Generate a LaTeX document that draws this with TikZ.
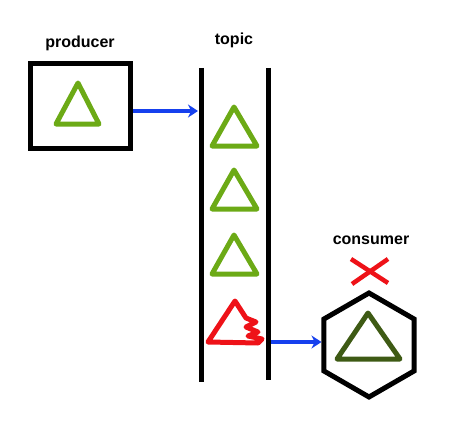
\documentclass[tikz,border=0pt]{standalone}
\usepackage{fontspec}
\setmainfont{Liberation Sans}
\usetikzlibrary{shapes.geometric,arrows.meta}
\definecolor{okgreen}{RGB}{108,170,22}
\definecolor{darkgreen}{RGB}{62,90,20}
\definecolor{badred}{RGB}{238,18,24}
\definecolor{msgblue}{RGB}{22,64,238}
\tikzset{
  title/.style={font=\bfseries\fontsize{16}{19}\selectfont},
  okmsg/.style={okgreen,line width=5pt,line join=round},
  msgarrow/.style={msgblue,line width=3.5pt,-{Stealth[length=10pt,width=13pt]}}
}
\begin{document}
\begin{tikzpicture}[x=1pt,y=-1pt]
  \useasboundingbox (0,0) rectangle (474,428);
  % producer
  \node[title] (prodlabel) at (80,43) {producer};
  \node[draw,line width=5pt,minimum width=100pt,minimum height=84pt] (prod) at (80,106) {};
  \draw[okmsg] (78,83) -- (56,124) -- (99,124) -- cycle;
  % topic
  \node[title] (topiclabel) at (234,40) {topic};
  \draw[line width=5pt] (201,68) -- (201,382);
  \draw[line width=5pt] (268,68) -- (268,380);
  \coordinate (inlet) at (198,111);
  \foreach \y in {107,170,235}
    \draw[okmsg] (234,\y) -- ++(-22,39) -- ++(45,0) -- cycle;
  \draw[badred,line width=5pt,line join=round]
    (235,301) -- (246,318) -- (256,322) -- (246,327) -- (258,332)
    -- (248,336) -- (262,339) -- (258,343) -- (208,342) -- cycle;
  \coordinate (bad) at (271,342);
  % consumer
  \node[title] (conslabel) at (371,240) {consumer};
  \draw[badred,line width=4.5pt] (351,259) -- (388,283);
  \draw[badred,line width=4.5pt] (388,259) -- (352,284);
  \node[draw,regular polygon,regular polygon sides=6,shape border rotate=30,
        line width=5pt,minimum size=104pt] (cons) at (369,345) {};
  \draw[darkgreen,line width=5pt,line join=round] (368,313) -- (337,359) -- (400,359) -- cycle;
  % messages
  \draw[msgarrow] (prod.east |- inlet) -- (inlet);
  \draw[msgarrow] (bad) -- (bad -| cons.west);
\end{tikzpicture}
\end{document}
